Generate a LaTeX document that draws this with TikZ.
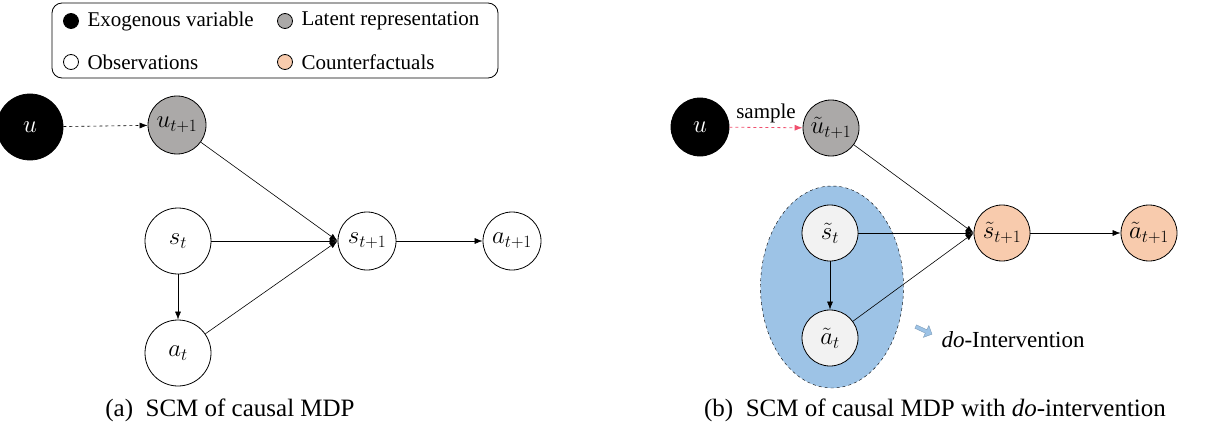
\documentclass[tikz,border=0pt]{standalone}
\usepackage{fontspec}
\setmainfont{Liberation Serif}
\usetikzlibrary{arrows.meta,shapes.arrows,shapes.geometric}
\definecolor{latent}{HTML}{ABA9A8}
\definecolor{cf}{HTML}{F8CBAD}
\definecolor{dobl}{HTML}{9DC3E6}
\definecolor{pink}{HTML}{F0506E}
\tikzset{
 v/.style={circle,draw,thick,inner sep=0pt,font=\fontsize{27}{30}\selectfont},
 big/.style={v,minimum size=66pt},
 sm/.style={v,minimum size=58pt},
 leg/.style={circle,draw,thick,minimum size=15pt,inner sep=0pt},
 ltext/.style={anchor=west,font=\fontsize{21}{23}\selectfont},
 ar/.style={-{Latex[length=8pt,width=6pt]},semithick},
 captxt/.style={font=\fontsize{25}{27}\selectfont}
}
\begin{document}
\begin{tikzpicture}[x=1pt,y=-1pt]
\useasboundingbox (0,0) rectangle (1214,433);
% legend
\draw[thick,rounded corners=10pt] (52,3) rectangle (498,78);
\node[leg,fill=black] (l1) at (71,21) {};
\node[ltext] (t1) at (84,21) {Exogenous variable};
\node[leg,fill=latent] (l2) at (285,21) {};
\node[ltext] (t2) at (298,21) {Latent representation};
\node[leg,fill=white] (l3) at (71,62) {};
\node[ltext] (t3) at (84,62) {Observations};
\node[leg,fill=cf] (l4) at (285,62) {};
\node[ltext] (t4) at (298,62) {Counterfactuals};
% (a)
\node[big,fill=black,text=white] (u) at (30,127) {$u$};
\node[sm,fill=latent] (u1) at (177,125) {$u_{t+1}$};
\node[big] (s) at (178,241) {$s_t$};
\node[big] (a) at (178,353) {$a_t$};
\node[sm] (s1) at (367,241) {$s_{t+1}$};
\node[sm] (a1) at (512,241) {$a_{t+1}$};
\draw[ar,dashed] (u) -- (u1);
\draw[ar] (u1) -- (s1.west);
\draw[ar] (s) -- (s1.west);
\draw[ar] (a) -- (s1.west);
\draw[ar] (s) -- (a);
\draw[ar] (s1) -- (a1);
\node[captxt] (ca) at (230,410) {(a)\ \ SCM of causal MDP};
% (b)
\node[draw,dashed,fill=dobl,ellipse,minimum width=143pt,minimum height=202pt] (el) at (832,287) {};
\node[sm,fill=black,text=white] (bu) at (700,127) {$u$};
\node[sm,fill=latent,minimum size=56pt] (bu1) at (831,128) {$\tilde u_{t+1}$};
\node[sm,fill=black!5,minimum size=56pt] (bs) at (830,233) {$\tilde s_t$};
\node[sm,fill=black!5,minimum size=56pt] (ba) at (830,338) {$\tilde a_t$};
\node[sm,fill=cf,minimum size=56pt] (bs1) at (1002,233) {$\tilde s_{t+1}$};
\node[sm,fill=cf,minimum size=56pt] (ba1) at (1149,233) {$\tilde a_{t+1}$};
\draw[ar,dashed,pink,thick] (bu) -- node[above,black,font=\fontsize{21}{23}\selectfont,yshift=1pt] (smp) {sample} (bu1);
\draw[ar] (bu1) -- (bs1.west);
\draw[ar] (bs) -- (bs1.west);
\draw[ar] (ba) -- (bs1.west);
\draw[ar] (bs) -- (ba);
\draw[ar] (bs1) -- (ba1);
\node[single arrow,fill=dobl,draw=dobl!80!black,minimum height=18pt,minimum width=13pt,single arrow head extend=3pt,inner sep=1pt,rotate=-25] (da) at (923,330) {};
\node[anchor=west,font=\fontsize{23}{25}\selectfont] (dt) at (938,340) {\textit{do}-Intervention};
\node[captxt] (cb) at (935,410) {(b)\ \ SCM of causal MDP with \textit{do}-intervention};
\end{tikzpicture}
\end{document}
